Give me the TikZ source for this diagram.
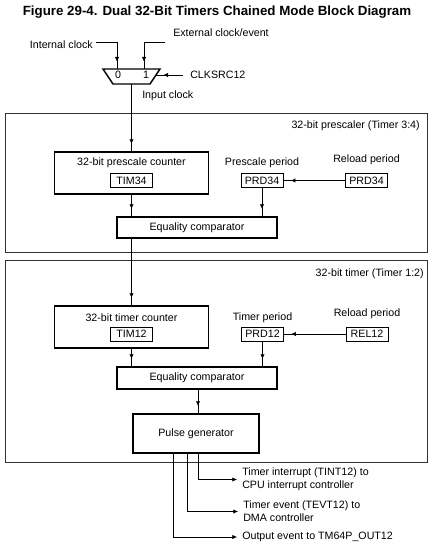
\documentclass[tikz,border=0pt]{standalone}
\usepackage{fontspec}
\setmainfont{Liberation Sans}
\usetikzlibrary{arrows.meta,decorations.markings}
\begin{document}
\begin{tikzpicture}[x=0.75pt,y=-0.75pt,
  every node/.style={font=\fontsize{8}{9.75}\selectfont, inner sep=0pt},
  blk/.style={draw, line width=1.1pt},
  regbox/.style={draw, line width=0.7pt, minimum width=31.5pt, minimum height=10.5pt},
  midtip/.style={postaction={decorate}, decoration={markings,
    mark=at position -5.5pt with {\arrow{Latex[length=3.5pt,width=3.2pt]}}}},
  endtip/.style={-{Latex[length=3.5pt,width=3.2pt]}, shorten >=3.75pt}]
\useasboundingbox (0,0) rectangle (434,549);
\node (title) at (217,12) {\fontsize{10}{12}\selectfont\bfseries Figure 29-4. Dual 32-Bit Timers Chained Mode Block Diagram};
% clock select
\draw[line width=1.1pt, line join=miter] (103,69) -- (160,69) -- (150,84) -- (113,84) -- cycle;
\node (m0) at (118,75) {0};
\node (m1) at (146,75) {1};
\coordinate (muxa) at (117,69);
\coordinate (muxb) at (144,69);
\coordinate (muxs) at (156,75);
\coordinate (muxo) at (131.5,84);
\node[anchor=east] (intclk) at (93,45) {Internal clock};
\node[anchor=west] (extclk) at (173,33) {External clock/event};
\node[anchor=west] (clksrc) at (190,75) {CLKSRC12};
\node[anchor=west] (inclk) at (142,96) {Input clock};
\coordinate (ia) at (96,42);
\coordinate (ea) at (165,42);
\draw[midtip] (ia) -| (muxa);
\draw[midtip] (ea) -| (muxb);
\draw[midtip] ([xshift=-5pt]clksrc.west) -- (muxs);
% prescaler
\draw[black!80, line width=0.7pt] (5,113) rectangle (427,252);
\node[anchor=east] (plbl) at (420,126) {32-bit prescaler (Timer 3:4)};
\node[blk, minimum width=115.5pt, minimum height=31.5pt] (pcnt) at (131.5,173) {};
\node (pcnttxt) at (131.5,163) {32-bit prescale counter};
\node[regbox] (tim34) at (131.5,180.5) {TIM34};
\node (pper) at (262,163) {Prescale period};
\node[regbox] (prd34) at (262,180.5) {PRD34};
\node (prld) at (366.5,160) {Reload period};
\node[regbox] (rld34) at (366.5,180.5) {PRD34};
\node[blk, minimum width=120pt, minimum height=15.75pt] (cmp1) at (197,227.5) {Equality comparator};
\draw[midtip] (muxo) -- (pcnt.north);
\draw[midtip] (rld34.west) -- (prd34.east);
\draw[midtip] (pcnt.south) -- (pcnt.south |- cmp1.north);
\draw[midtip] (prd34.south) -- (prd34.south |- cmp1.north);
% timer
\draw[black!80, line width=0.7pt] (5,260) rectangle (427,462);
\node[anchor=east] (tlbl) at (424,274) {32-bit timer (Timer 1:2)};
\node[blk, minimum width=115.5pt, minimum height=31.5pt] (tcnt) at (131.5,327) {};
\node (tcnttxt) at (131.5,318) {32-bit timer counter};
\node[regbox] (tim12) at (131.5,334) {TIM12};
\node (tper) at (262.5,318) {Timer period};
\node[regbox] (prd12) at (262.5,334) {PRD12};
\node (trld) at (367,314) {Reload period};
\node[regbox] (rel12) at (367,334) {REL12};
\node[blk, minimum width=120pt, minimum height=16.5pt] (cmp2) at (197,378) {Equality comparator};
\node[blk, minimum width=94.5pt, minimum height=29.25pt] (pgen) at (196,433.5) {Pulse generator};
\draw[midtip] (cmp1.south -| tcnt.north) -- (tcnt.north);
\draw[midtip] (rel12.west) -- (prd12.east);
\draw[midtip] (tcnt.south) -- (tcnt.south |- cmp2.north);
\draw[midtip] (prd12.south) -- (prd12.south |- cmp2.north);
\coordinate (pin) at ([xshift=1.5pt]pgen.north);
\draw[midtip] (pin |- cmp2.south) -- (pin);
% outputs
\node[anchor=west, align=left] (tint) at (242,479.5) {Timer interrupt (TINT12) to\\CPU interrupt controller};
\node[anchor=west, align=left] (tevt) at (243,511.5) {Timer event (TEVT12) to\\DMA controller};
\node[anchor=west] (tout) at (242,537) {Output event to TM64P\_OUT12};
\draw[endtip] ([xshift=1.5pt]pgen.south) |- (tint.west);
\draw[endtip] ([xshift=-6.75pt]pgen.south) |- (tevt.west);
\draw[endtip] ([xshift=-17.25pt]pgen.south) |- (tout.west);
\end{tikzpicture}
\end{document}
